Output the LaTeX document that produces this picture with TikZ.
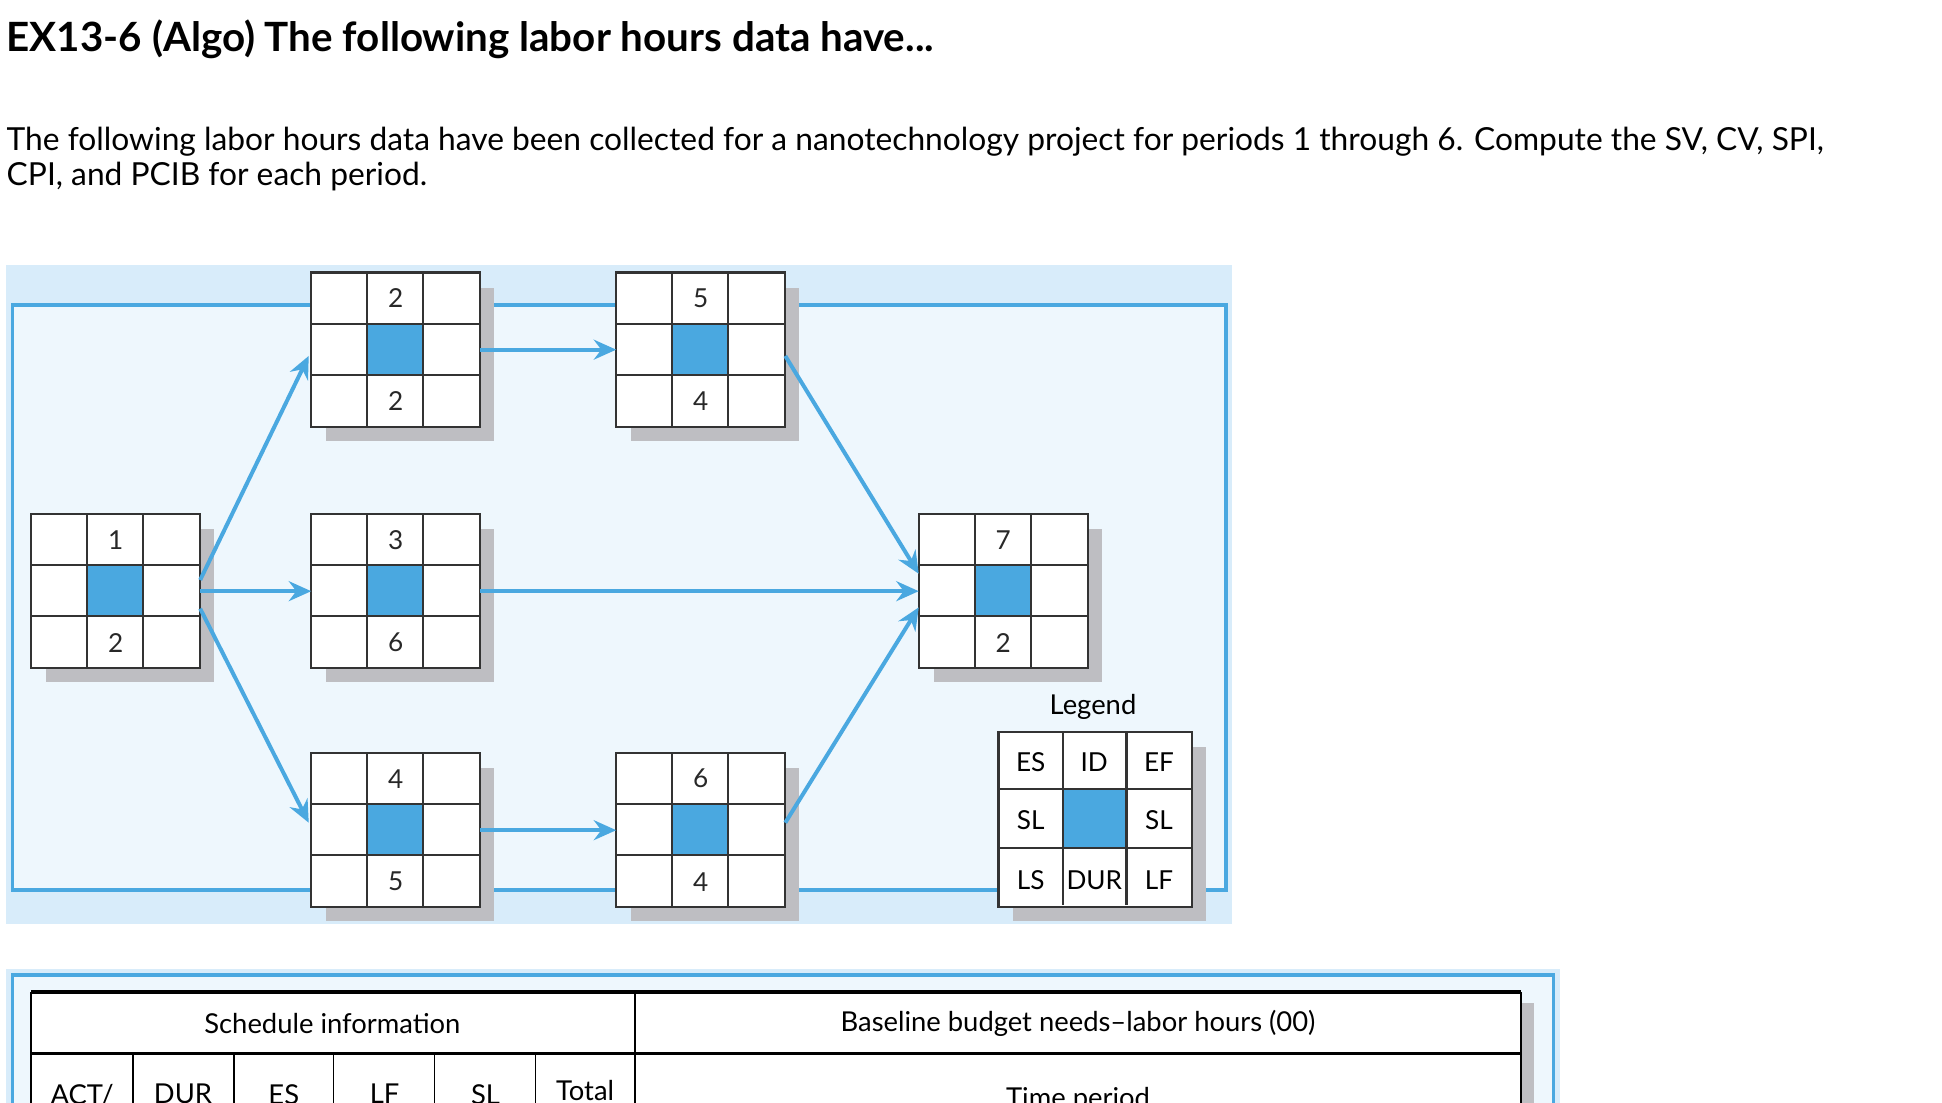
\documentclass[tikz,border=0pt]{standalone}
\usepackage{fontspec}
\setmainfont{Lato}
\usetikzlibrary{calc,positioning,arrows.meta}
\definecolor{my-blue}{RGB}{74, 168, 224}
\definecolor{my-panel}{RGB}{216, 236, 250}
\definecolor{my-inner}{RGB}{238, 247, 253}
\definecolor{my-shade}{RGB}{190, 190, 194}
\definecolor{my-text}{RGB}{40, 40, 40}
\newcommand{\actnode}[4]{%
    \fill[my-shade] ($(#2)+(12,12)$) rectangle ++(135,123);
    \node[actbox, anchor=north west] (#1) at (#2) {};
    \fill[my-blue] ($(#1.north west)+(45,41)$) rectangle ++(45,41);
    \foreach \d in {45,90} {
        \draw[cell] ($(#1.north west)+(\d,0)$) -- ++(0,123);
    }
    \foreach \d in {41,82} {
        \draw[cell] ($(#1.north west)+(0,\d)$) -- ++(135,0);
    }
    \draw[cell] (#1.north west) rectangle (#1.south east);
    \node[digit] at ($(#1.north)+(0,20.5)$) {#3};
    \node[digit] at ($(#1.south)+(0,-20.5)$) {#4};
}
\begin{document}
\begin{tikzpicture}[
    x=0.5pt, y=-0.5pt,
    font=\color{my-text},
    actbox/.style={
        fill=white,
        minimum width=67.5pt,
        minimum height=61.5pt,
        inner sep=0pt
    }, cell/.style={
        line width=0.9pt,
        draw=black!80
    }, digit/.style={
        font=\fontsize{10.5}{12}\selectfont\color{my-text}
    }, pil/.style={
        -{Stealth[length=9pt, width=8pt, inset=3pt]},
        draw=my-blue,
        line width=1.6pt
    }]
    \useasboundingbox (0,0) rectangle (1560,886);
    \fill[white] (0,0) rectangle (1560,886);

    %%% TEXT
    \node[anchor=base west, inner sep=0pt, font=\fontsize{16.2}{19}\selectfont\bfseries] (title) at (5,41)
        {EX13-6 (Algo) The following labor hours data have...};
    \node[anchor=base west, inner sep=0pt, font=\fontsize{12.75}{15}\selectfont] (line1) at (5,121)
        {The following labor hours data have been collected for a nanotechnology project for periods 1 through 6. Compute the SV, CV, SPI,};
    \node[anchor=base west, inner sep=0pt, font=\fontsize{12.75}{15}\selectfont] (line2) at (5,149)
        {CPI, and PCIB for each period.};

    %%% NETWORK PANEL
    \fill[my-panel] (5,213) rectangle (990,742);
    \filldraw[fill=my-inner, draw=my-blue, line width=1.5pt] (10,245) rectangle (985,715);

    \actnode{act1}{25,413}{1}{2}
    \actnode{act2}{250,219}{2}{2}
    \actnode{act3}{250,413}{3}{6}
    \actnode{act4}{250,605}{4}{5}
    \actnode{act5}{495,219}{5}{4}
    \actnode{act6}{495,605}{6}{4}
    \actnode{act7}{738,413}{7}{2}

    %%% LEGEND
    \node[font=\fontsize{11}{13}\selectfont] (legend-title) at (878,568) {Legend};
    \fill[my-shade] (814,600) rectangle ++(155,140);
    \node[actbox, anchor=north west, minimum width=77.5pt, minimum height=70pt] (legend) at (802,588) {};
    \fill[my-blue] ($(legend.north west)+(52,46)$) rectangle ++(51,47);
    \draw[cell] (legend.north west) rectangle (legend.south east);
    \draw[cell] (854,588) -- (854,727) (905,588) -- (905,727)
        (802,634) -- (957,634) (802,681) -- (957,681);
    \foreach \txt/\px/\py in {ES/828/612, ID/879/612, EF/931/612, SL/828/659, SL/931/659,
        LS/828/707, DUR/879/707, LF/931/707} {
        \node[font=\fontsize{10.5}{12}\selectfont] at (\px,\py) {\txt};
    }

    %%% EDGES
    \draw[pil] ($(act1.east)+(0,-9)$) -- ($(act2.west)+(-2,5)$);
    \draw[pil] (act1.east) -- (act3.west);
    \draw[pil] ($(act1.east)+(0,14)$) -- ($(act4.west)+(-2,-6)$);
    \draw[pil] (act2.east) -- (act5.west);
    \draw[pil] (act3.east) -- (act7.west);
    \draw[pil] (act4.east) -- (act6.west);
    \draw[pil] ($(act5.east)+(0,5)$) -- ($(act7.west)+(0,-14)$);
    \draw[pil] ($(act6.east)+(0,-6)$) -- ($(act7.west)+(0,13)$);

    %%% TABLE PANEL
    \fill[my-panel] (5,778) rectangle (1253,900);
    \filldraw[fill=my-inner, draw=my-blue, line width=1.5pt] (10,783) rectangle (1248,920);
    \fill[my-shade] (1222,806) rectangle (1232,900);
    \fill[white] (25,797) rectangle (1222,900);
    \draw[line width=1.5pt] (25,797) -- (1222,797);
    \draw[line width=0.8pt] (25,797) -- (25,900) (1222,797) -- (1222,900)
        (510,797) -- (510,900);
    \draw[line width=1.2pt] (25,846) -- (1222,846);
    \foreach \cx in {107,188,268,349,430} {
        \draw[line width=0.6pt] (\cx,846) -- (\cx,900);
    }
    \node[font=\fontsize{11}{13}\selectfont] (sched) at (267,822) {Schedule information};
    \node[font=\fontsize{11}{13}\selectfont] (budget) at (866,822) {Baseline budget needs--labor hours (00)};
    \foreach \txt/\cx in {{ACT/}/66, DUR/147, ES/228, LF/309, SL/390} {
        \node[font=\fontsize{11}{13}\selectfont, anchor=north] at (\cx,864) {\txt};
    }
    \node[font=\fontsize{11}{13}\selectfont, anchor=north] (total) at (470,861) {Total};
    \node[font=\fontsize{11}{13}\selectfont, anchor=north] (period) at (866,866) {Time period};
\end{tikzpicture}
\end{document}
